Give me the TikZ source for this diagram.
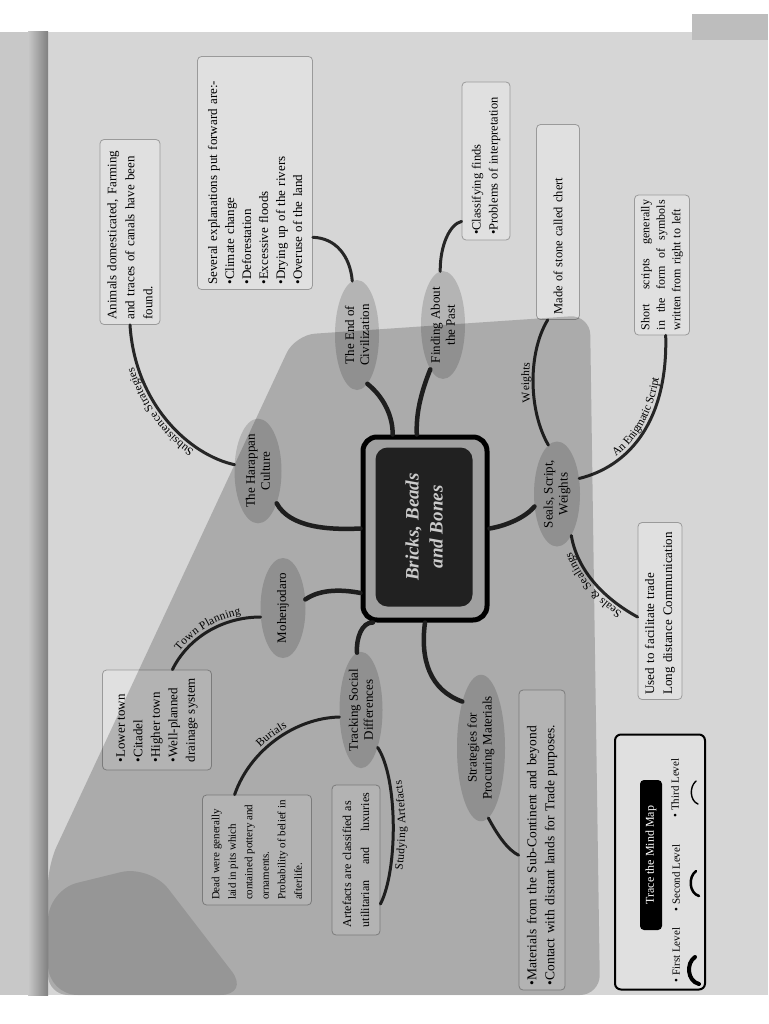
\documentclass[tikz,border=0pt]{standalone}
\usepackage{fontspec}
\setmainfont{Liberation Serif}
\usetikzlibrary{shapes.geometric,decorations.text}
\newcommand\myfs[2]{\fontsize{#1}{#2}\selectfont}
\definecolor{pagegray}{HTML}{D6D6D6}
\definecolor{ovalgray}{HTML}{B4B4B4}
\definecolor{boxgray}{HTML}{E0E0E0}
\definecolor{boxedge}{HTML}{9A9A9A}
\definecolor{linecol}{HTML}{262626}
\definecolor{coredark}{HTML}{2A2A2A}
\definecolor{framegray}{HTML}{C9C9C9}
\definecolor{leftlight}{HTML}{C8C8C8}
\definecolor{leftdark}{HTML}{808080}
\definecolor{tabgray}{HTML}{BDBDBD}
\begin{document}
\begin{tikzpicture}[x=1pt,y=-1pt,
  oval/.style={ellipse, fill=ovalgray, inner sep=0pt, align=center, rotate=90, font=\myfs{13}{15}},
  box/.style={rectangle, rounded corners=4pt, fill=boxgray, draw=boxedge, line width=0.8pt, align=left, inner sep=5pt, rotate=90},
  conn/.style={draw=linecol, line width=4.5pt, line cap=round},
  subconn/.style={draw=linecol, line width=3pt, line cap=round},
  curvelabel/.style 2 args={postaction={decorate, decoration={text along path, text align=center, raise=#2, text={|\myfs{11.5}{12}|#1}}}},
  lvl/.style={rotate=90, font=\myfs{11}{12}, inner sep=1pt},
  shadowfill/.style={black, fill opacity=0.2, rounded corners=20pt}
]
\useasboundingbox (0,0) rectangle (768,1024);
% page background
\fill[white] (0,0) rectangle (768,1024);
\fill[pagegray] (0,32) rectangle (768,995);
\fill[leftlight] (0,32) rectangle (48,995);
\shade[left color=leftlight, right color=leftdark] (28,32) rectangle (48,995);
\fill[tabgray] (692,14) rectangle (768,40);

% centre
\node[draw=black, line width=5pt, rounded corners=14pt, fill=framegray, minimum width=124, minimum height=183] (hub) at (425,528.5) {};
\node[fill=coredark, rounded corners=12pt, rotate=90, minimum width=159, minimum height=97, text=white, align=center, font=\myfs{19}{24}\bfseries\itshape] (core) at (424,527) {Bricks, Beads\\and Bones};

% first level ovals
\node[oval, minimum width=102, minimum height=47] (harappan) at (258,471) {The Harappan\\Culture};
\node[oval, minimum width=100, minimum height=45] (mohen) at (283,608) {Mohenjodaro};
\node[oval, minimum width=110, minimum height=43] (tracking) at (361,710) {Tracking Social\\Differences};
\node[oval, minimum width=143, minimum height=48] (strategies) at (481,748) {Strategies for\\Procuring Materials};
\node[oval, minimum width=110, minimum height=44] (endciv) at (357,335) {The End of\\Civilization};
\node[oval, minimum width=100, minimum height=44] (finding) at (443,325) {Finding About\\the Past};
\node[oval, minimum width=105, minimum height=46] (seals) at (557,494) {Seals, Script,\\Weights};

% boxes
\node[box, minimum width=185, minimum height=60, text width=175pt, font=\myfs{13}{18}] (animals) at (130,232) {Animals domesticated, Farming\\and traces of canals have been\\found.};
\node[box, minimum width=233, minimum height=115, text width=223pt, font=\myfs{13}{17}] (several) at (255,173) {Several explanations put forward are:-\\•Climate change\\•Deforestation\\•Excessive floods\\•Drying up of the rivers\\•Overuse of the land};
\node[box, minimum width=158, minimum height=48, text width=148pt, font=\myfs{12.5}{17}] (classify) at (486,161) {•Classifying finds\\•Problems of interpretation};
\node[box, minimum width=195, minimum height=43, text width=185pt, font=\myfs{12.5}{16}] (chert) at (558,222) {Made of stone called chert};
\node[box, minimum width=140, minimum height=55, text width=130pt, font=\myfs{12}{15.5}] (short) at (662,265) {Short \hfill scripts \hfill generally\\in \hfill the \hfill form \hfill of \hfill symbols\\written from right to left};
\node[box, minimum width=177, minimum height=44, text width=167pt, font=\myfs{13}{18}] (used) at (660,611) {Used to facilitate trade\\Long distance Communication};
\node[box, minimum width=300, minimum height=46, text width=290pt, font=\myfs{13.5}{18}] (materials) at (542,840) {•Materials from the Sub-Continent and beyond\\•Contact with distant lands for Trade purposes.};
\node[box, minimum width=150, minimum height=48, text width=134pt, font=\myfs{12}{18}] (artefacts) at (356,860) {Artefacts are classified as\\utilitarian \hfill and \hfill luxuries};
\node[box, minimum width=110, minimum height=109, font=\myfs{11}{16.5}] (dead) at (257,850) {Dead were generally\\laid in pits which\\contained pottery and\\ornaments.\\Probability of belief in\\afterlife.};
\node[box, minimum width=100, minimum height=109, font=\myfs{13}{17.5}] (lower) at (157,720) {•Lower town\\•Citadel\\•Higher town\\•Well-planned\\drainage system};

% centre connectors
\draw[conn] (harappan.-150) .. controls (290,528) and (330,530) .. (hub.west);
\draw[conn] (mohen.-69) .. controls (322,588) and (345,590) .. (hub.-135);
\draw[conn] (tracking.4) .. controls (356,638) and (362,622) .. (hub.-119);
\draw[conn] (strategies.22) .. controls (430,690) and (420,660) .. (hub.south);
\draw[conn] (endciv.-168) .. controls (385,398) and (393,418) .. (hub.109);
\draw[conn] (finding.164) .. controls (420,395) and (416,415) .. (hub.95);
\draw[conn] (seals.119) .. controls (525,518) and (505,526) .. (hub.east);

% second level connectors
\draw[subconn, curvelabel={Subsistence Strategies}{4pt}] (harappan.75) .. controls (190,455) and (135,405) .. (animals.west);
\draw[subconn, curvelabel={Town Planning}{4pt}] (lower.-17) .. controls (188,638) and (222,617) .. (mohen.112);
\draw[subconn, curvelabel={Burials}{4pt}] (dead.22) .. controls (250,750) and (295,718) .. (tracking.108);
\draw[subconn, curvelabel={Studying Artefacts}{-12pt}] (artefacts.-151) .. controls (398,870) and (398,778) .. (tracking.-156);
\draw[subconn, curvelabel={Weights}{4pt}] (seals.10.6) .. controls (528,410) and (528,352) .. (chert.174);
\draw[subconn, curvelabel={An Enigmatic Script}{4pt}] (seals.-55) .. controls (630,466) and (668,420) .. (short.-177.5);
\draw[subconn, curvelabel={Seals {\&} Sealings}{4pt}] (used.105) .. controls (610,602) and (578,575) .. (seals.-161);
\draw[subconn] (endciv.5) .. controls (350,255) and (335,238) .. (several.-138);
\draw[subconn] (finding.3.6) .. controls (440,245) and (450,224) .. (classify.158);
\draw[subconn] (strategies.-174) .. controls (498,836) and (508,850) .. (materials.123);

% legend
\node[draw=black, line width=2pt, rounded corners=6pt, fill=boxgray, rotate=90, minimum width=255, minimum height=90] (legend) at (660,862) {};
\node[fill=black, rounded corners=4pt, rotate=90, minimum width=150, minimum height=22, text=white, font=\myfs{12}{13}] (trace) at (651,855) {Trace the Mind Map};
\node[lvl] (first) at (676,955) {• First Level};
\node[lvl] (second) at (676,878) {• Second Level};
\node[lvl] (third) at (675,788) {• Third Level};
\draw[line width=4pt, line cap=round] (699,984) .. controls (687,981) and (686,963) .. (695,957);
\draw[line width=2.5pt, line cap=round] (699,896) .. controls (689,893) and (688,877) .. (696,871);
\draw[line width=1.4pt, line cap=round] (698,804) .. controls (690,801) and (689,787) .. (696,781);

% photographic shadow
\fill[shadowfill] (295,335) -- (590,315) -- (600,995) -- (48,995) -- (48,865) -- cycle;
\fill[black, fill opacity=0.12, rounded corners=30pt] (48,890) -- (150,865) -- (250,995) -- (48,995) -- cycle;
\end{tikzpicture}
\end{document}
